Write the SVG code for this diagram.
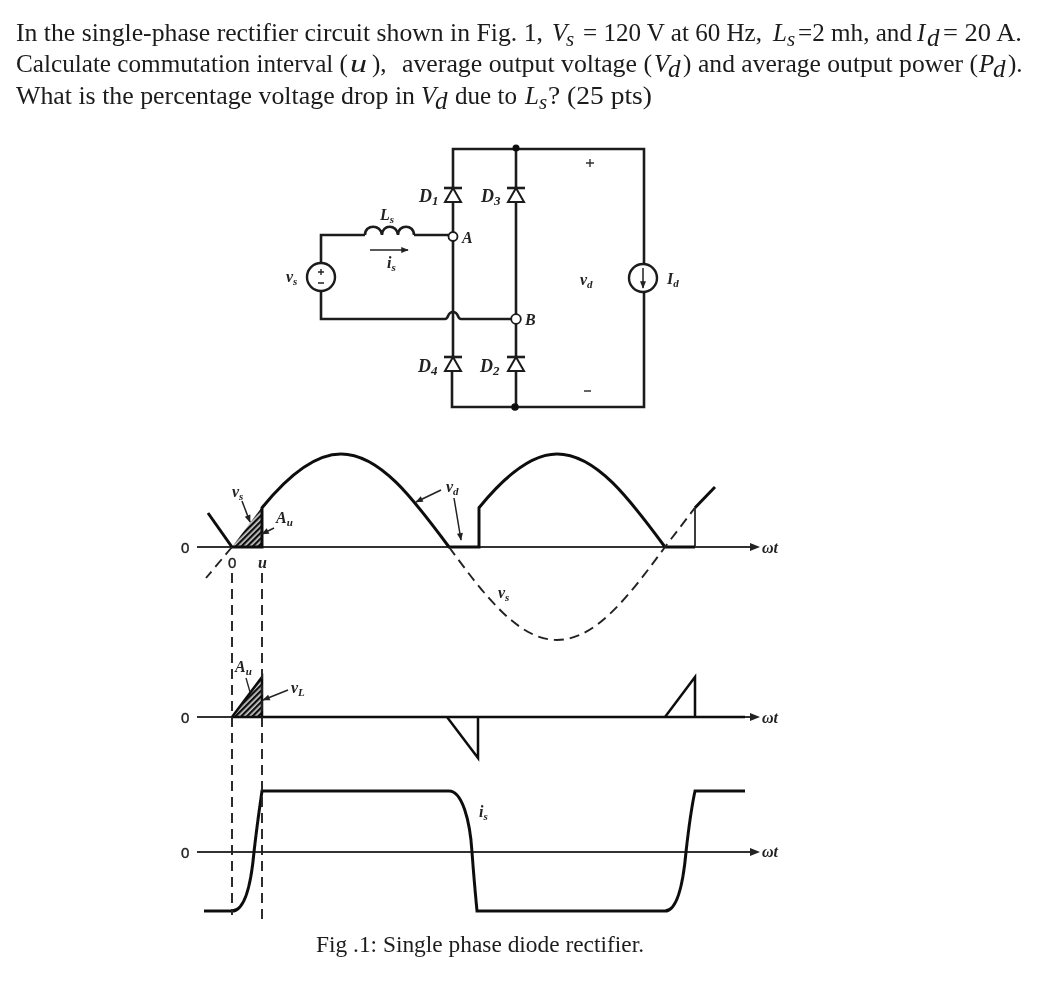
<svg xmlns="http://www.w3.org/2000/svg" width="1043" height="1005" viewBox="0 0 1043 1005">
<style>
.t{font:25px "Liberation Serif",serif;fill:#1a1a1a}
.m{font:italic 25px "Liberation Serif",serif;fill:#1a1a1a}
.s{font:italic 21px "Liberation Serif",serif;fill:#1a1a1a}
.l{font:italic bold 16px "Liberation Serif",serif;fill:#222}
.d{font:italic bold 18px "Liberation Serif",serif;fill:#222}
.ls{font:italic bold 11px "Liberation Serif",serif;fill:#222}
.dn{font:italic bold 13px "Liberation Serif",serif;fill:#222}
.z{font:15px "Liberation Sans",sans-serif;fill:#222;stroke:#222;stroke-width:.4}
.w{fill:none;stroke:#1a1a1a;stroke-width:2.6}
.thin{fill:none;stroke:#333;stroke-width:1.900}
.dash{fill:none;stroke:#222;stroke-width:1.900;stroke-dasharray:10 6}
.wave{fill:none;stroke:#111;stroke-width:3}
.wave2{fill:none;stroke:#111;stroke-width:2.500}
.lead{fill:none;stroke:#222;stroke-width:1.500;marker-end:url(#a)}
.dio{fill:#fff;stroke:#1a1a1a;stroke-width:2}
#figure{filter:url(#soft)}
#problem-text,#caption{filter:url(#softer)}
</style>
<defs>
<filter id="soft" x="0" y="0" width="100%" height="100%"><feGaussianBlur stdDeviation=".55"/></filter>
<filter id="softer" x="0" y="0" width="100%" height="100%"><feGaussianBlur stdDeviation=".35"/></filter>
<marker id="a" viewBox="0 0 10 10" refX="9" refY="5" markerWidth="6" markerHeight="5" orient="auto" markerUnits="strokeWidth"><path d="M0 1L10 5L0 9Z" fill="#222"/></marker>
<pattern id="h" width="4" height="4" patternUnits="userSpaceOnUse" patternTransform="rotate(45)"><rect width="4" height="4" fill="#ccc"/><rect width="2.300" height="4" fill="#111"/></pattern>
<g id="diode"><path class="dio" d="M-8 14H8L0 0Z"/><path class="w" d="M-9 0H9"/></g>
</defs>

<g id="problem-text">
<text class="t" x="16" y="41" textLength="527" lengthAdjust="spacingAndGlyphs">In the single-phase rectifier circuit shown in Fig. 1,</text>
<text class="m" x="552" y="41">V</text><text class="s" x="566" y="46">s</text>
<text class="t" x="583" y="41" textLength="179" lengthAdjust="spacingAndGlyphs">= 120 V at 60 Hz,</text>
<text class="m" x="773" y="41">L</text><text class="s" x="787" y="46">s</text>
<text class="t" x="798" y="41" textLength="114" lengthAdjust="spacingAndGlyphs">=2 mh, and</text>
<text class="m" x="917" y="41">I</text><text class="m" x="927" y="46">d</text>
<text class="t" x="943" y="41" textLength="79" lengthAdjust="spacingAndGlyphs">= 20 A.</text>
<text class="t" x="16" y="72" textLength="332" lengthAdjust="spacingAndGlyphs">Calculate commutation interval (</text>
<text class="m" x="350" y="72" textLength="17" lengthAdjust="spacingAndGlyphs">u</text><text class="t" x="372" y="72">),</text>
<text class="t" x="402" y="72" textLength="250" lengthAdjust="spacingAndGlyphs">average output voltage (</text>
<text class="m" x="654" y="72">V</text><text class="m" x="668" y="77">d</text><text class="t" x="683" y="72">)</text>
<text class="t" x="698" y="72" textLength="280" lengthAdjust="spacingAndGlyphs">and average output power (</text>
<text class="m" x="979" y="72">P</text><text class="m" x="993" y="77">d</text><text class="t" x="1008" y="72">).</text>
<text class="t" x="16" y="104" textLength="399" lengthAdjust="spacingAndGlyphs">What is the percentage voltage drop in</text>
<text class="m" x="421" y="104">V</text><text class="m" x="435" y="109">d</text>
<text class="t" x="455" y="104" textLength="62" lengthAdjust="spacingAndGlyphs">due to</text>
<text class="m" x="525" y="104">L</text><text class="s" x="539" y="109">s</text>
<text class="t" x="548" y="104" textLength="104" lengthAdjust="spacingAndGlyphs">? (25 pts)</text>
</g>

<g id="figure">
<g id="connectors">
<path class="w" d="M453 188V149H644V264M644 292V407H452V371M516 149V188M453 202V232M453 241V356M516 202V314M516 324V356M516 371V407"/>
<path class="w" d="M321 263V235H365M414 235H449M321 291V319H445C449 319 447 312 453 312C459 312 457 319 461 319H511"/>
<path class="w" d="M365 235C365 224 381 224 382 235C382 224 397 224 398 235C398 224 414 224 414 235"/>
</g>

<g id="node-A"><circle cx="453" cy="236.500" r="4.500" fill="#fff" stroke="#1a1a1a" stroke-width="1.800"/><text class="l" x="462" y="243">A</text></g>
<g id="node-B"><circle cx="516" cy="319" r="4.800" fill="#fff" stroke="#1a1a1a" stroke-width="1.800"/><text class="l" x="525" y="325">B</text></g>
<g id="node-top"><circle cx="516" cy="148" r="3.500" fill="#111"/></g>
<g id="node-bottom"><circle cx="515" cy="407" r="3.800" fill="#111"/></g>
<g id="D1"><use href="#diode" x="453" y="188"/><text class="d" x="419" y="202">D<tspan class="dn" dy="3">1</tspan></text></g>
<g id="D3"><use href="#diode" x="516" y="188"/><text class="d" x="481" y="202">D<tspan class="dn" dy="3">3</tspan></text></g>
<g id="D4"><use href="#diode" x="453" y="357"/><text class="d" x="418" y="372">D<tspan class="dn" dy="3">4</tspan></text></g>
<g id="D2"><use href="#diode" x="516" y="357"/><text class="d" x="480" y="372">D<tspan class="dn" dy="3">2</tspan></text></g>
<g id="Ls"><text class="l" x="380" y="220">L<tspan class="ls" dy="3">s</tspan></text><path class="lead" d="M370 250H408"/><text class="l" x="387" y="268">i<tspan class="ls" dy="3">s</tspan></text></g>
<g id="source-vs"><circle cx="321" cy="277" r="14" fill="#fff" stroke="#1a1a1a" stroke-width="2.400"/><path d="M318 272h6M321 269v6M318 283h6" stroke="#222" stroke-width="1.400"/><text class="l" x="286" y="282">v<tspan class="ls" dy="3">s</tspan></text></g>
<g id="source-Id"><circle cx="643" cy="278" r="14" fill="#fff" stroke="#1a1a1a" stroke-width="2.400"/><path class="lead" d="M643 268V288"/><text class="l" x="667" y="284">I<tspan class="ls" dy="3">d</tspan></text></g>
<g id="vd-label"><path d="M586 163h8M590 159v8M584 391h7" stroke="#333" stroke-width="1.400"/><text class="l" x="580" y="285">v<tspan class="ls" dy="3">d</tspan></text></g>

<g id="waveform-vd">
<path class="thin" d="M197 547H752M695 547V508"/>
<path d="M750 543L760 547L750 551Z" fill="#222"/>
<path d="M232 547L262 507V547Z" fill="url(#h)"/>
<path class="wave" d="M208 513L232 547H262V507.700C288 475.800 315 454 341 454C380 454 413.800 499.400 449 547H479V507.700C505 475.800 531 454 557 454C596 454 630 499.400 665 547H695M695 507.700L715 487"/>
<path class="dash" d="M232 547L206 578M449 547C484 594.600 518 640 557 640C596 640 630 594.600 665 547L695 507.700"/>
<text class="z" x="181" y="553">0</text><text class="z" x="228" y="568">0</text><text class="l" x="258" y="568">u</text>
<text class="l" x="232" y="497">v<tspan class="ls" dy="3">s</tspan></text><path class="lead" d="M242 501L250 522"/>
<text class="l" x="276" y="523">A<tspan class="ls" dy="3">u</tspan></text><path class="lead" d="M274 528L262 534"/>
<text class="l" x="446" y="492">v<tspan class="ls" dy="3">d</tspan></text><path class="lead" d="M441 490L416 502"/><path class="lead" d="M454 498L461 540"/>
<text class="l" x="498" y="598">v<tspan class="ls" dy="3">s</tspan></text>
<text class="l" x="762" y="553">ωt</text>
</g>

<g id="waveform-vL">
<path class="thin" d="M197 717H752"/>
<path d="M750 713L760 717L750 721Z" fill="#222"/>
<path d="M232 717L262 677V717Z" fill="url(#h)"/>
<path class="wave2" d="M232 717H745"/>
<path class="wave2" d="M232 717L262 677V717M447 717L478 758V717M665 717L695 677V717"/>
<text class="z" x="181" y="723">0</text>
<text class="l" x="235" y="672">A<tspan class="ls" dy="3">u</tspan></text><path d="M246 678L250 692" stroke="#222" stroke-width="1.300"/>
<text class="l" x="291" y="693">v<tspan class="ls" dy="3">L</tspan></text><path class="lead" d="M288 690L263 700"/>
<text class="l" x="762" y="723">ωt</text>
</g>

<g id="waveform-is">
<path class="thin" d="M197 852H752"/>
<path d="M750 848L760 852L750 856Z" fill="#222"/>
<path class="wave" d="M204 911H232C245 911 251 885 254 852C257 825 260 805 262 791H449C462 791 470 820 472 852C474 880 476 900 477 911H665C677 911 683 885 686 852C689 825 692 805 695 791H745"/>
<text class="z" x="181" y="858">0</text>
<text class="l" x="479" y="817">i<tspan class="ls" dy="3">s</tspan></text>
<text class="l" x="762" y="857">ωt</text>
</g>

<path class="dash" d="M232 573V915M262 573V920"/>
</g>
<text id="caption" class="t" x="316" y="952" textLength="328" lengthAdjust="spacingAndGlyphs" style="font-size:23.500px">Fig .1: Single phase diode rectifier.</text>
</svg>
